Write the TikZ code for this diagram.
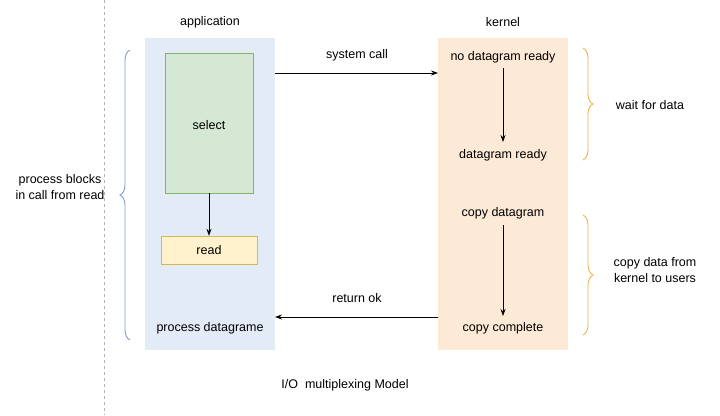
\documentclass[tikz,border=0pt]{standalone}
\usepackage{fontspec}
\setmainfont{Liberation Sans}
\usetikzlibrary{decorations.pathreplacing,arrows.meta}
\definecolor{appbg}{HTML}{E3EBF7}
\definecolor{kbg}{HTML}{FCE9D6}
\definecolor{gfill}{HTML}{D5E8D4}
\definecolor{gline}{HTML}{82B366}
\definecolor{yfill}{HTML}{FFF2CC}
\definecolor{yline}{HTML}{D6B656}
\definecolor{bbrace}{HTML}{7E9CCB}
\definecolor{obrace}{HTML}{F0B050}
\begin{document}
\begin{tikzpicture}[x=1pt,y=-1pt,font=\fontsize{12.5}{15.5}\selectfont,
  arr/.style={-{Stealth[length=7pt,width=5pt]},line width=0.8pt},
  txt/.style={inner sep=1pt,align=center},
  br/.style={decorate,decoration={brace,amplitude=10pt},line width=0.9pt}]
\useasboundingbox (0,0) rectangle (720,415);
\draw[gray!60,dashed] (104,0) -- (104,415);
\fill[appbg] (145,38) rectangle (275,350);
\fill[kbg] (438,38) rectangle (568,350);
\node[txt] (app) at (210,22) {application};
\node[txt] (ker) at (503,22) {kernel};
\node[draw=gline,fill=gfill,minimum width=88pt,minimum height=140pt,inner sep=0] (sel) at (209,123) {};
\node[txt] at (209,125) {select};
\node[draw=yline,fill=yfill,minimum width=96pt,minimum height=28pt,inner sep=0] (read) at (209,250) {read};
\draw[arr] (sel.south) -- (read.north);
\node[txt] (pd) at (210,328) {process datagrame};
\node[txt] (sc) at (357,55) {system call};
\coordinate (s1) at (275,73); \coordinate (s2) at (438,73);
\draw[arr] (s1) -- (s2);
\node[txt] (ro) at (357,298) {return ok};
\coordinate (r1) at (438,317); \coordinate (r2) at (275,317);
\draw[arr] (r1) -- (r2);
\node[txt] (ndr) at (503,57) {no datagram ready};
\node[txt] (dr) at (503,155) {datagram ready};
\coordinate (a1) at (503,68); \coordinate (a2) at (503,142);
\draw[arr] (a1) -- (a2);
\node[txt] (cd) at (503,213) {copy datagram};
\node[txt] (cc) at (503,328) {copy complete};
\coordinate (b1) at (503,225); \coordinate (b2) at (503,316);
\draw[arr] (b1) -- (b2);
\draw[br,bbrace] (130,340) -- (130,50);
\node[txt] at (60,187) {process blocks\\in call from read};
\draw[br,obrace] (583,48) -- (583,160);
\node[txt] at (650,105) {wait for data};
\draw[br,obrace] (583,215) -- (583,335);
\node[txt] at (655,270) {copy data from\\kernel to users};
\node[txt] (t) at (345,385) {I/O\ \ multiplexing Model};
\end{tikzpicture}
\end{document}
